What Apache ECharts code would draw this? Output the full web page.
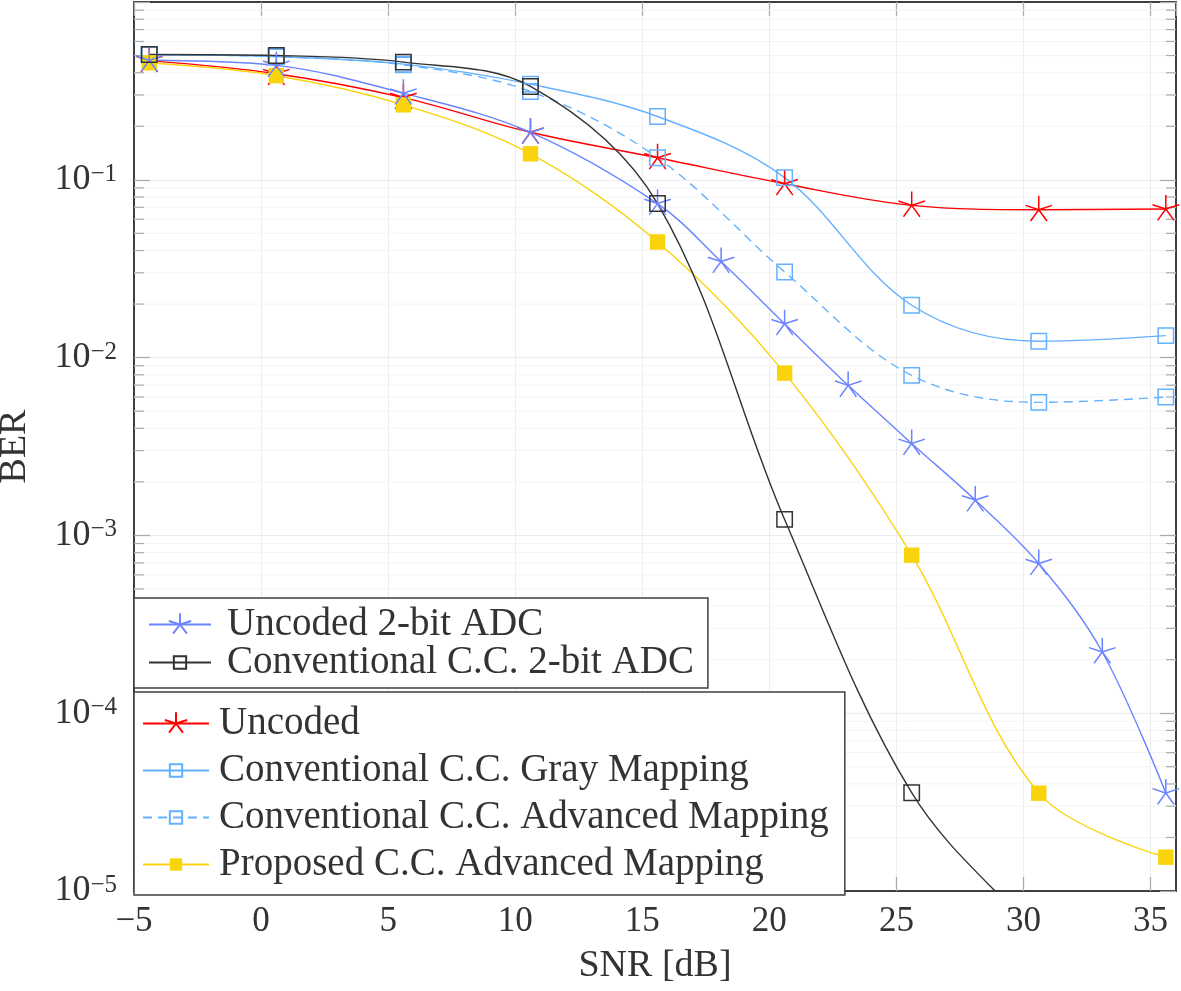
<!DOCTYPE html>
<html>
<head>
<meta charset="utf-8">
<title>BER vs SNR</title>
<script src="https://cdn.jsdelivr.net/npm/echarts@6/dist/echarts.min.js"></script>
<style>
  html, body { margin: 0; padding: 0; background: #fff; }
  #chart { width: 1181px; height: 991px; }
</style>
</head>
<body>
<div id="chart"></div>
<script>
// 数据：SNR 取值与各曲线 BER
var snr = [-4.4, 0.6, 5.6, 10.6, 15.6, 20.6, 25.6, 30.6, 35.6];
var snrFine = [-4.4, 0.6, 5.6, 10.6, 15.6, 18.1, 20.6, 23.1, 25.6, 28.1, 30.6, 33.1, 35.6];

var berUncoded2bit = [0.47, 0.44, 0.307, 0.185, 0.0735, 0.0347, 0.0155, 0.00698, 0.00329, 0.00158, 0.000695, 0.000221, 0.0000356];
var berConv2bit = [0.507, 0.5, 0.459, 0.335, 0.0735, 0.00123, 0.0000357, 0.0000055, 0.0000008];
var berUncoded = [0.468, 0.395, 0.29, 0.185, 0.133, 0.095, 0.0718, 0.0679, 0.0685];
var berGray = [0.505, 0.493, 0.447, 0.345, 0.227, 0.1028, 0.0197, 0.01236, 0.0133];
var berAdvanced = [0.505, 0.493, 0.443, 0.314, 0.133, 0.0303, 0.00794, 0.0056, 0.006];
var berProposed = [0.455, 0.385, 0.264, 0.14, 0.0447, 0.00818, 0.000774, 0.0000355, 0.0000155];

// 坐标轴刻度
var xTicks = [-5, 0, 5, 10, 15, 20, 25, 30, 35];
var yDecades = [-5, -4, -3, -2, -1];
var yMinorSteps = [2, 3, 4, 5, 6, 7, 8, 9];

var FONT = '"Liberation Serif", "DejaVu Serif", serif';
var X_MIN = xTicks[0], X_MAX = 36;
var FRAME = '#3c4043';
var TICK = '#a6aeb1';

// 符号：五角星形的线条 和 空心方块（外围留空，使图例里方块小一些）
var STAR = 'path://M0 0L0 -1M0 0L0.951 -0.309M0 0L-0.951 -0.309M0 0L0.588 0.809M0 0L-0.588 0.809M0 1L0 1';
var SQUARE = 'path://M-0.55 -0.55L0.55 -0.55L0.55 0.55L-0.55 0.55ZM-1 -1L-1 -1M1 1L1 1';

function pairs(xs, ys) {
  return xs.map(function (x, i) { return [x, ys[i]]; });
}

// 次刻度（log 轴 2..9）
var minorData = [];
yDecades.forEach(function (d) {
  yMinorSteps.forEach(function (k) {
    minorData.push([X_MIN, k * Math.pow(10, d)]);
  });
});

function lineSeries(name, xs, ys, color, symbol, filled, dashed) {
  return {
    name: name,
    type: 'line',
    data: pairs(xs, ys),
    smooth: 0.35,
    symbol: symbol,
    symbolSize: 28,
    symbolKeepAspect: true,
    clip: true,
    z: 3,
    lineStyle: { color: color, width: 1.4, type: dashed ? [9, 6] : 'solid' },
    itemStyle: { color: filled ? color : 'none', borderColor: color, borderWidth: filled ? 0 : 1.5 },
    emphasis: { disabled: true }
  };
}

var chart = echarts.init(document.getElementById('chart'));

var option = {
  animation: false,
  backgroundColor: '#fff',
  grid: { left: 134, right: 5, top: 2, bottom: 100, outerBoundsMode: 'none', containLabel: false },
  xAxis: [
    {
      type: 'value', min: X_MIN, max: X_MAX, interval: 5,
      name: 'SNR [dB]', nameLocation: 'middle', nameGap: 56,
      nameTextStyle: { fontFamily: FONT, fontSize: 38, color: '#333' },
      axisLine: { show: true, onZero: false, lineStyle: { color: FRAME, width: 2 } },
      axisTick: { inside: true, length: 14, lineStyle: { color: TICK, width: 1.3 } },
      axisLabel: {
        margin: 13, showMaxLabel: false, fontFamily: FONT, fontSize: 35, color: '#333',
        formatter: function (v) { return v < 0 ? '\u2212' + (-v) : String(v); }
      },
      splitLine: { show: true, lineStyle: { color: '#e9eded', width: 1 } }
    },
    {
      type: 'value', position: 'top', min: X_MIN, max: X_MAX, interval: 5,
      axisLine: { show: true, onZero: false, lineStyle: { color: FRAME, width: 2 } },
      axisTick: { inside: true, length: 14, lineStyle: { color: TICK, width: 1.3 } },
      axisLabel: { show: false },
      splitLine: { show: false }
    }
  ],
  yAxis: [
    {
      type: 'log', logBase: 10, min: 1e-5, max: 1,
      name: 'BER', nameLocation: 'middle', nameGap: 100,
      nameTextStyle: { fontFamily: FONT, fontSize: 38, color: '#333' },
      axisLine: { show: true, onZero: false, lineStyle: { color: FRAME, width: 2 } },
      axisTick: { inside: true, length: 16, lineStyle: { color: TICK, width: 1.3 } },
      axisLabel: {
        margin: 17,
        formatter: function (v) {
          var e = Math.round(Math.log10(v));
          if (e >= 0) return '';
          return '{b|10}{s|\u2212' + (-e) + '}';
        },
        rich: {
          b: { fontFamily: FONT, fontSize: 36, lineHeight: 36, color: '#333' },
          s: { fontFamily: FONT, fontSize: 25, lineHeight: 20, color: '#333', verticalAlign: 'top' }
        }
      },
      splitLine: { show: true, lineStyle: { color: '#e9eded', width: 1 } }
    },
    {
      type: 'log', logBase: 10, min: 1e-5, max: 1, position: 'right',
      axisLine: { show: true, onZero: false, lineStyle: { color: FRAME, width: 2 } },
      axisTick: { inside: true, length: 16, lineStyle: { color: TICK, width: 1.3 } },
      axisLabel: { show: false },
      splitLine: { show: false }
    }
  ],
  legend: [
    {
      data: ['Uncoded 2-bit ADC', 'Conventional C.C. 2-bit ADC'],
      orient: 'vertical', left: 134, top: 598,
      padding: [7, 14, 6, 14], itemGap: -1, itemWidth: 62, itemHeight: 28,
      backgroundColor: '#fff', borderColor: FRAME, borderWidth: 1.5, borderRadius: 0,
      selectedMode: false, z: 10,
      textStyle: { fontFamily: FONT, fontSize: 39, color: '#333', padding: [0, 0, 0, 11] }
    },
    {
      data: ['Uncoded', 'Conventional C.C. Gray Mapping', 'Conventional C.C. Advanced Mapping', 'Proposed C.C. Advanced Mapping'],
      orient: 'vertical', left: 134, top: 692,
      padding: [12, 16, 11, 8], itemGap: 8, itemWidth: 66, itemHeight: 28,
      backgroundColor: '#fff', borderColor: FRAME, borderWidth: 1.5, borderRadius: 0,
      selectedMode: false, z: 10,
      textStyle: { fontFamily: FONT, fontSize: 39, color: '#333', padding: [0, 0, 0, 5] }
    }
  ],
  series: [
    {
      // 次网格线与次刻度
      type: 'custom',
      silent: true,
      z: 1,
      data: minorData,
      encode: { x: 0, y: 1 },
      renderItem: function (params, api) {
        var cs = params.coordSys;
        var y = api.coord([api.value(0), api.value(1)])[1];
        var tickStyle = { stroke: TICK, lineWidth: 1.2 };
        return {
          type: 'group',
          children: [
            { type: 'line', shape: { x1: cs.x, y1: y, x2: cs.x + cs.width, y2: y }, style: { stroke: '#f2f4f4', lineWidth: 1 } },
            { type: 'line', shape: { x1: cs.x, y1: y, x2: cs.x + 10, y2: y }, style: tickStyle },
            { type: 'line', shape: { x1: cs.x + cs.width - 10, y1: y, x2: cs.x + cs.width, y2: y }, style: tickStyle }
          ]
        };
      }
    },
    lineSeries('Uncoded', snr, berUncoded, '#ff0000', STAR, false, false),
    lineSeries('Conventional C.C. Gray Mapping', snr, berGray, '#63b1ff', SQUARE, false, false),
    lineSeries('Conventional C.C. Advanced Mapping', snr, berAdvanced, '#63b1ff', SQUARE, false, true),
    lineSeries('Proposed C.C. Advanced Mapping', snr, berProposed, '#f9d30c', SQUARE, true, false),
    lineSeries('Uncoded 2-bit ADC', snrFine, berUncoded2bit, '#6b84ff', STAR, false, false),
    lineSeries('Conventional C.C. 2-bit ADC', snr, berConv2bit, '#333333', SQUARE, false, false)
  ]
};

chart.setOption(option);
</script>
</body>
</html>
